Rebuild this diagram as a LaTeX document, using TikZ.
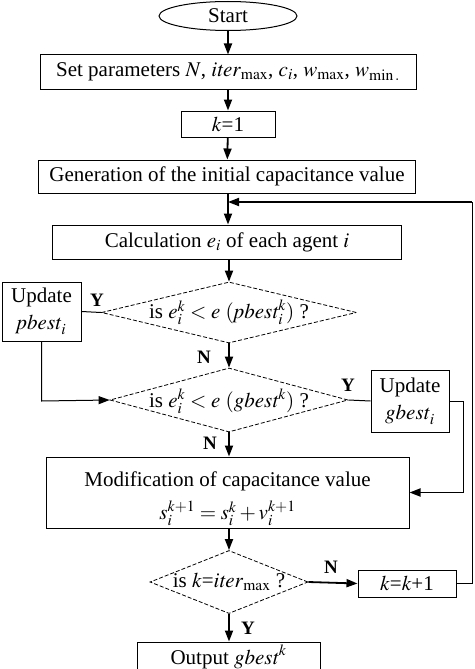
\documentclass[tikz,border=0pt]{standalone}
\usepackage{mathptmx}
\usepackage{fontspec}
\setmainfont{Liberation Serif}
\usetikzlibrary{arrows.meta,shapes.geometric}
\tikzset{
  txt/.style={font=\fontsize{21}{24}\selectfont},
  procbox/.style={txt,draw,line width=1pt,rectangle,inner sep=0pt,anchor=center},
  decbox/.style={draw,line width=0.8pt,dash pattern=on 4pt off 2pt,diamond,aspect=1,inner sep=0pt,anchor=center},
  flow/.style={line width=1.8pt,-{Triangle[length=11pt,width=8pt]}},
  thinflow/.style={line width=1pt,-{Triangle[length=11pt,width=8pt]}},
  plain/.style={line width=1pt},
  lab/.style={font=\fontsize{19}{22}\selectfont\bfseries,inner sep=0pt}
}
\begin{document}
\begin{tikzpicture}[x=1pt,y=-1pt]
\useasboundingbox (0,0) rectangle (474,669);
\node[txt,draw,line width=1pt,ellipse,minimum width=138pt,minimum height=29pt,inner sep=0pt] (start) at (228,16) {Start};
\node[procbox,minimum width=376pt,minimum height=34pt] (params) at (228,72) {Set parameters $N$, $\mathit{iter}_{\max}$, $c_i$, $w_{\max}$, $w_{\min.}$};
\node[procbox,minimum width=94pt,minimum height=26pt] (k1) at (228,124) {$k$=1};
\node[procbox,minimum width=377pt,minimum height=33pt] (gen) at (227,176.5) {Generation of the initial capacitance value};
\node[procbox,minimum width=349pt,minimum height=34pt] (calc) at (227,242) {Calculation $e_i$ of each agent $i$};
\node[decbox,minimum width=255pt,minimum height=61pt] (d1) at (229,312.5) {};
\node[txt] (d1t) at (229,312.5) {is $e_i^k < e$ $(\mathit{pbest}_i^k)$ ?};
\node[procbox,minimum width=79pt,minimum height=59pt,align=center] (pbest) at (41.5,311.5) {Update\\[3pt]$\mathit{pbest}_i$};
\node[decbox,minimum width=238pt,minimum height=64pt] (d2) at (229,400) {};
\node[txt] (d2t) at (229,401) {is $e_i^k < e$ $(\mathit{gbest}^k)$ ?};
\node[procbox,minimum width=78pt,minimum height=62pt,align=center] (gbest) at (410,401) {Update\\[3pt]$\mathit{gbest}_i$};
\node[procbox,minimum width=363pt,minimum height=71pt] (mod) at (227.5,492.5) {};
\node[txt,align=center] (modt) at (227.5,499) {Modification of capacitance value\\[9pt]$s_i^{k+1} = s_i^k + v_i^{k+1}$};
\node[decbox,minimum width=158pt,minimum height=63pt] (d3) at (229,582) {};
\node[txt] (d3t) at (229,582) {is $k$=$\mathit{iter}_{\max}$ ?};
\node[procbox,minimum width=98pt,minimum height=27pt] (kk) at (407,583.5) {$k$=$k$+1};
\node[procbox,minimum width=183pt,minimum height=30pt] (out) at (228.5,657) {Output $\mathit{gbest}^k$};
% coordinates
\coordinate (fbR) at (472,583.5);
\coordinate (fbT) at (472,202);
\coordinate (fbM) at (228,202);
\coordinate (pbL) at (41.5,401);
\coordinate (gbA) at (463,401);
\coordinate (gbB) at (463,492.5);
% main flow
\draw[flow] (start) -- (params);
\draw[flow] (params) -- (k1);
\draw[flow] (k1) -- (gen);
\draw[flow] (gen.south -| fbM) -- (calc.north -| fbM);
\draw[flow] (calc.south -| d1.north) -- (d1.north);
\draw[flow] (d1.south) -- (d2.north);
\draw[flow] (d2.south) -- (mod.north -| d2.south);
\draw[flow] (mod.south -| d3.north) -- (d3.north);
\draw[flow] (d3.south) -- (out.north -| d3.south);
\draw[flow] (d3.east) -- (kk.west);
% branches
\draw[plain] (d1.west) -- (pbest.east);
\draw[thinflow] (pbest.south) -- (pbL) -- (d2.west);
\draw[plain] (d2.east) -- (gbest.west);
\draw[plain] (gbest.east) -- (gbA) -- (gbB);
\draw[flow] (gbB) -- (mod.east);
\draw[plain] (kk.east) -- (fbR) -- (fbT);
\draw[flow] (fbT) -- (fbM);
% labels
\node[lab] (y1) at (97,300) {Y};
\node[lab] (n1) at (204,357) {N};
\node[lab] (y2) at (348,385) {Y};
\node[lab] (n2) at (210,443) {N};
\node[lab] (n3) at (331,567) {N};
\node[lab] (y3) at (248,628) {Y};
\end{tikzpicture}
\end{document}
